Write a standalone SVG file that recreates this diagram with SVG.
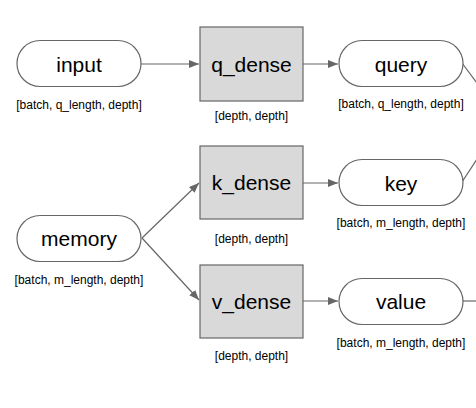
<svg xmlns="http://www.w3.org/2000/svg" width="476" height="408" viewBox="0 0 476 408">
<style>
.t{fill:#ffffff;stroke:#666666;stroke-width:1.2}
.d{fill:#d9d9d9;stroke:#666666;stroke-width:1.2}
.lb{font-family:"Liberation Sans",Arial,sans-serif;font-size:21px;fill:#000;text-anchor:middle}
.sm{font-family:"Liberation Sans",Arial,sans-serif;font-size:12px;fill:#000;text-anchor:middle}
.e{fill:none;stroke:#666666;stroke-width:1.2}
</style>
<defs>
<marker id="ah" markerWidth="10" markerHeight="8" refX="10" refY="4" orient="auto" markerUnits="userSpaceOnUse">
<path d="M0,0 L10,4 L0,8 Z" fill="#666666"/>
</marker>
</defs>
<g id="connectors">
<line class="e" x1="141" y1="64" x2="199" y2="64" marker-end="url(#ah)"/>
<line class="e" x1="303" y1="64" x2="338" y2="64" marker-end="url(#ah)"/>
<line class="e" x1="303" y1="183" x2="338" y2="183" marker-end="url(#ah)"/>
<line class="e" x1="303" y1="301" x2="338" y2="301" marker-end="url(#ah)"/>
<line class="e" x1="142" y1="238" x2="199" y2="183" marker-end="url(#ah)"/>
<line class="e" x1="142" y1="238" x2="199" y2="300" marker-end="url(#ah)"/>
<line class="e" x1="462" y1="63" x2="477" y2="83"/>
<line class="e" x1="462" y1="182" x2="477" y2="159"/>
<line class="e" x1="462" y1="301" x2="477" y2="301"/>
</g>
<g id="input">
<rect class="t" x="17" y="40.5" width="124" height="46" rx="23" ry="23"/>
<text class="lb" x="79" y="71.5">input</text>
<text class="sm" x="79" y="109">[batch, q_length, depth]</text>
</g>
<g id="q_dense">
<rect class="d" x="200" y="27" width="103" height="74"/>
<text class="lb" x="251.5" y="71.5">q_dense</text>
<text class="sm" x="251.5" y="120">[depth, depth]</text>
</g>
<g id="query">
<rect class="t" x="339" y="40.5" width="124" height="46" rx="23" ry="23"/>
<text class="lb" x="401" y="71.5">query</text>
<text class="sm" x="401" y="108">[batch, q_length, depth]</text>
</g>
<g id="k_dense">
<rect class="d" x="200" y="146" width="103" height="73"/>
<text class="lb" x="251.5" y="190">k_dense</text>
<text class="sm" x="251.5" y="243">[depth, depth]</text>
</g>
<g id="key">
<rect class="t" x="339" y="159.5" width="124" height="46" rx="23" ry="23"/>
<text class="lb" x="401" y="190.5">key</text>
<text class="sm" x="401" y="227">[batch, m_length, depth]</text>
</g>
<g id="memory">
<rect class="t" x="17" y="215.5" width="124" height="46" rx="23" ry="23"/>
<text class="lb" x="79" y="246">memory</text>
<text class="sm" x="79" y="284">[batch, m_length, depth]</text>
</g>
<g id="v_dense">
<rect class="d" x="200" y="265" width="103" height="73"/>
<text class="lb" x="251.5" y="309">v_dense</text>
<text class="sm" x="251.5" y="360">[depth, depth]</text>
</g>
<g id="value">
<rect class="t" x="339" y="278.5" width="124" height="46" rx="23" ry="23"/>
<text class="lb" x="401" y="309">value</text>
<text class="sm" x="401" y="347">[batch, m_length, depth]</text>
</g>
</svg>
